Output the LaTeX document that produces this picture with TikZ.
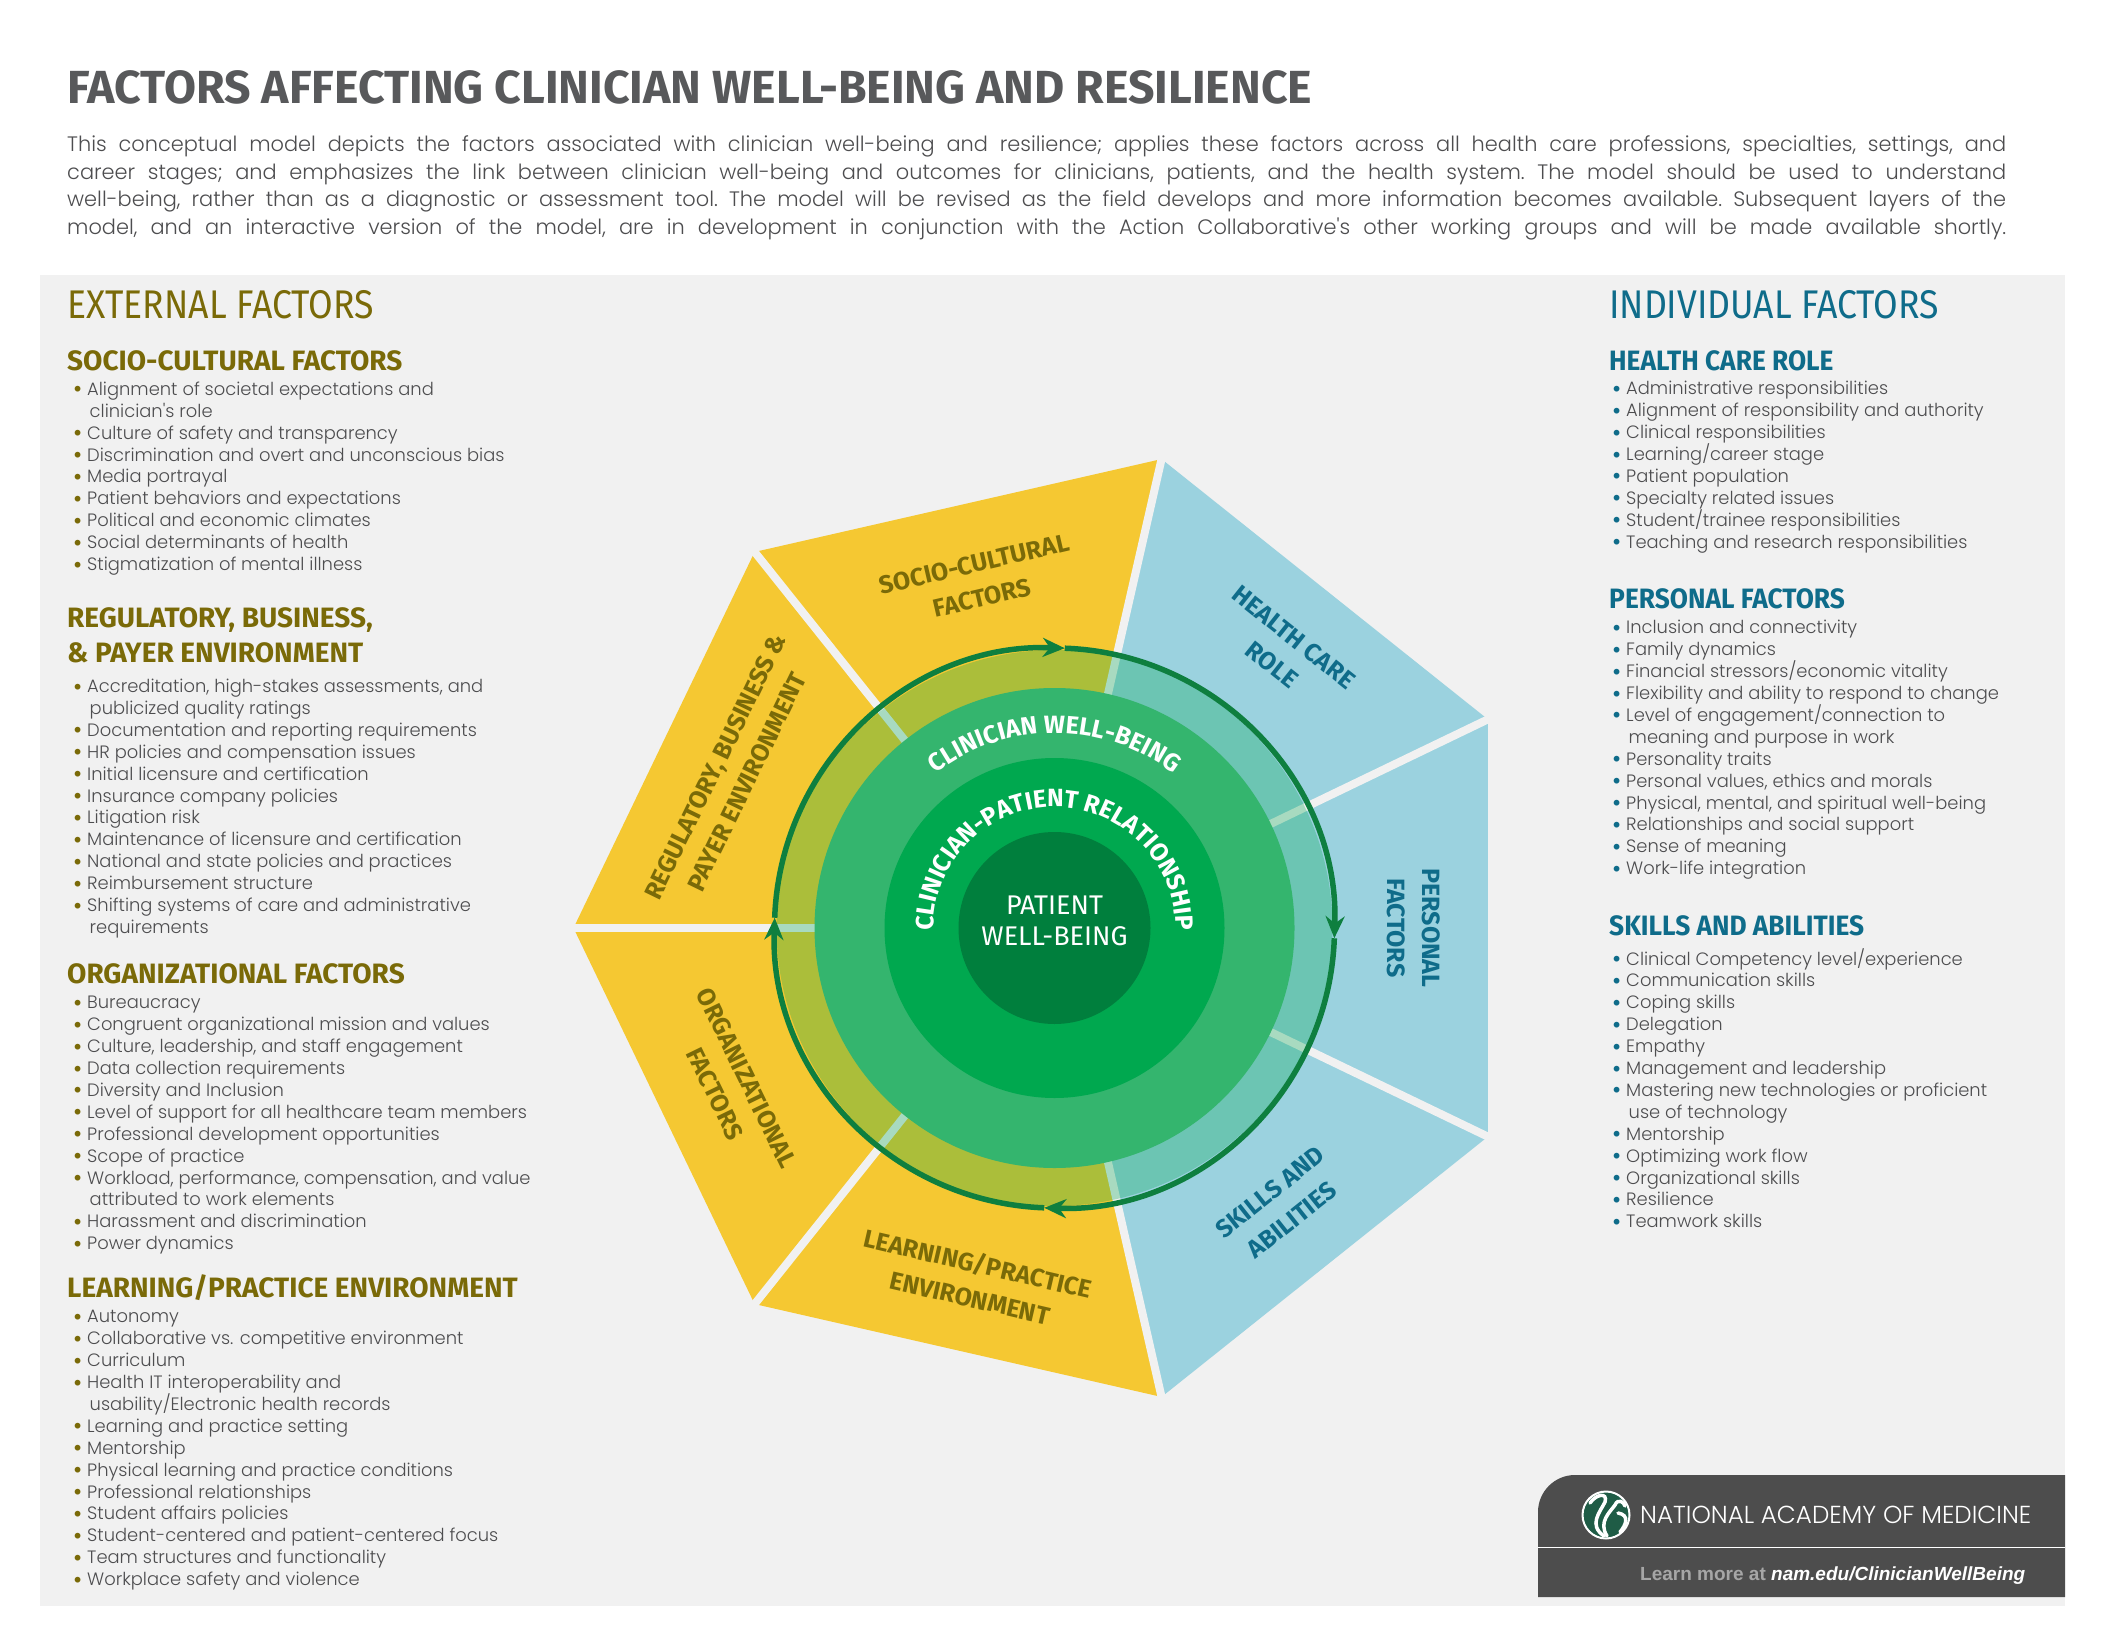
\documentclass[tikz,border=0pt]{standalone}
\usepackage{fontspec}
\usepackage{tikz}
\usetikzlibrary{arrows.meta,decorations.text}
\setmainfont{Liberation Sans}
\newfontfamily\bodyfont{Poppins Light}
\newfontfamily\headfont{Fira Sans}
\newfontfamily\indheadfont[FakeStretch=0.94]{Fira Sans}
\newfontfamily\thinheadfont[FakeStretch=0.89]{Fira Sans}
\definecolor{panelgray}{HTML}{F1F1F1}
\definecolor{titlegray}{HTML}{58595B}
\definecolor{textgray}{HTML}{4D4D4F}
\definecolor{extcol}{HTML}{7A6A08}
\definecolor{indcol}{HTML}{0F6C8A}
\definecolor{sunyellow}{HTML}{F5C832}
\definecolor{skyblue}{HTML}{9BD2DF}
\definecolor{ringgreen}{HTML}{00A84F}
\definecolor{outergreen}{HTML}{34B56E}
\definecolor{coregreen}{HTML}{007F3D}
\definecolor{arrowgreen}{HTML}{0E7F3F}
\definecolor{logogray}{HTML}{4D4D4D}
\definecolor{logogreen}{HTML}{1F5C46}
\newcommand{\itm}[1]{\strut\makebox[20pt][r]{\textcolor{bulcol}{\smash{\raisebox{-2.5pt}{\fontsize{25}{25}\selectfont•}}}\hspace{5pt}}\smash{#1}}
\newcommand{\itmcont}[1]{\strut\hspace{22.5pt}\smash{#1}}
\newcommand{\fullline}[1]{\frenchspacing\makebox[1939pt][s]{#1}}
\tikzset{
  sechead/.style={anchor=base west,inner sep=0pt,font=\headfont\bfseries\fontsize{28}{35}\selectfont,align=left},
  exthead/.style={sechead,text=extcol},
  indhead/.style={sechead,text=indcol,font=\indheadfont\bfseries\fontsize{28}{35}\selectfont},
  bighead/.style={anchor=base west,inner sep=0pt,font=\thinheadfont\fontsize{40}{42}\selectfont},
  introline/.style={anchor=base west,inner sep=0pt,text=textgray,font=\bodyfont\fontsize{20.9}{27.4}\selectfont},
  extlist/.style={anchor=north west,inner sep=0pt,align=left,text=textgray,
    font=\bodyfont\fontsize{17.9}{21.9}\selectfont\colorlet{bulcol}{extcol}},
  indlist/.style={extlist,font=\bodyfont\fontsize{17.9}{21.9}\selectfont\colorlet{bulcol}{indcol}},
  wheellabel/.style={inner sep=0pt,align=center,font=\headfont\bfseries\fontsize{25}{35}\selectfont},
  gapline/.style={panelgray,line width=8pt},
  ringline/.style={arrowgreen,line width=5.5pt,-{Stealth[length=22pt,width=19pt]}},
  logostroke/.style={white,line width=3.5pt,line cap=round},
}
\begin{document}
\begin{tikzpicture}[x=1pt,y=-1pt]
  \useasboundingbox (0,0) rectangle (2104,1637);
  \fill[white] (0,0) rectangle (2104,1637);
  % heading
  \node[anchor=base west,inner sep=0pt,text=titlegray,font=\headfont\bfseries\fontsize{46.4}{48}\selectfont]
    (title) at (67,103.5) {FACTORS AFFECTING CLINICIAN WELL-BEING AND RESILIENCE};
  \node[introline] (introa) at (67,152)
    {\fullline{This conceptual model depicts the factors associated with clinician well-being and resilience; applies these factors across all health care professions, specialties, settings, and}};
  \node[introline] (introb) at (67,179.4)
    {\fullline{career stages; and emphasizes the link between clinician well-being and outcomes for clinicians, patients, and the health system. The model should be used to understand}};
  \node[introline] (introc) at (67,206.8)
    {\fullline{well-being, rather than as a diagnostic or assessment tool. The model will be revised as the field develops and more information becomes available. Subsequent layers of the}};
  \node[introline] (introd) at (67,234.2)
    {\fullline{model, and an interactive version of the model, are in development in conjunction with the Action Collaborative's other working groups and will be made available shortly.}};
  % panel
  \fill[panelgray] (40,275) rectangle (2065,1606);

  % left column
  \node[bighead,text=extcol] (exthd) at (67,319) {EXTERNAL FACTORS};
  \node[exthead] (sociohd) at (67,370) {SOCIO-CULTURAL FACTORS};
  \node[extlist] (sociolist) at (67,379.8) {\itm{Alignment of societal expectations and}\\
    \itmcont{clinician's role}\\
    \itm{Culture of safety and transparency}\\
    \itm{Discrimination and overt and unconscious bias}\\
    \itm{Media portrayal}\\
    \itm{Patient behaviors and expectations}\\
    \itm{Political and economic climates}\\
    \itm{Social determinants of health}\\
    \itm{Stigmatization of mental illness}};
  \node[exthead] (reghd) at (67,662) {REGULATORY, BUSINESS,\\\& PAYER ENVIRONMENT};
  \node[extlist] (reglist) at (67,677) {\itm{Accreditation, high-stakes assessments, and}\\
    \itmcont{publicized quality ratings}\\
    \itm{Documentation and reporting requirements}\\
    \itm{HR policies and compensation issues}\\
    \itm{Initial licensure and certification}\\
    \itm{Insurance company policies}\\
    \itm{Litigation risk}\\
    \itm{Maintenance of licensure and certification}\\
    \itm{National and state policies and practices}\\
    \itm{Reimbursement structure}\\
    \itm{Shifting systems of care and administrative}\\
    \itmcont{requirements}};
  \node[exthead] (orghd) at (67,983) {ORGANIZATIONAL FACTORS};
  \node[extlist] (orglist) at (67,993.3) {\itm{Bureaucracy}\\
    \itm{Congruent organizational mission and values}\\
    \itm{Culture, leadership, and staff engagement}\\
    \itm{Data collection requirements}\\
    \itm{Diversity and Inclusion}\\
    \itm{Level of support for all healthcare team members}\\
    \itm{Professional development opportunities}\\
    \itm{Scope of practice}\\
    \itm{Workload, performance, compensation, and value}\\
    \itmcont{attributed to work elements}\\
    \itm{Harassment and discrimination}\\
    \itm{Power dynamics}};
  \node[exthead] (learnhd) at (67,1297) {LEARNING/PRACTICE ENVIRONMENT};
  \node[extlist] (learnlist) at (67,1307.3) {\itm{Autonomy}\\
    \itm{Collaborative vs. competitive environment}\\
    \itm{Curriculum}\\
    \itm{Health IT interoperability and}\\
    \itmcont{usability/Electronic health records}\\
    \itm{Learning and practice setting}\\
    \itm{Mentorship}\\
    \itm{Physical learning and practice conditions}\\
    \itm{Professional relationships}\\
    \itm{Student affairs policies}\\
    \itm{Student-centered and patient-centered focus}\\
    \itm{Team structures and functionality}\\
    \itm{Workplace safety and violence}};

  % right column
  \node[bighead,text=indcol] (indhd) at (1609,319) {INDIVIDUAL FACTORS};
  \node[indhead] (rolehd) at (1609,370) {HEALTH CARE ROLE};
  \node[indlist] (rolelist) at (1606,379.3) {\itm{Administrative responsibilities}\\
    \itm{Alignment of responsibility and authority}\\
    \itm{Clinical responsibilities}\\
    \itm{Learning/career stage}\\
    \itm{Patient population}\\
    \itm{Specialty related issues}\\
    \itm{Student/trainee responsibilities}\\
    \itm{Teaching and research responsibilities}};
  \node[indhead] (personhd) at (1609,608) {PERSONAL FACTORS};
  \node[indlist] (personlist) at (1606,618.3) {\itm{Inclusion and connectivity}\\
    \itm{Family dynamics}\\
    \itm{Financial stressors/economic vitality}\\
    \itm{Flexibility and ability to respond to change}\\
    \itm{Level of engagement/connection to}\\
    \itmcont{meaning and purpose in work}\\
    \itm{Personality traits}\\
    \itm{Personal values, ethics and morals}\\
    \itm{Physical, mental, and spiritual well-being}\\
    \itm{Relationships and social support}\\
    \itm{Sense of meaning}\\
    \itm{Work-life integration}};
  \node[indhead] (skillhd) at (1609,935) {SKILLS AND ABILITIES};
  \node[indlist] (skilllist) at (1606,949.5) {\itm{Clinical Competency level/experience}\\
    \itm{Communication skills}\\
    \itm{Coping skills}\\
    \itm{Delegation}\\
    \itm{Empathy}\\
    \itm{Management and leadership}\\
    \itm{Mastering new technologies or proficient}\\
    \itmcont{use of technology}\\
    \itm{Mentorship}\\
    \itm{Optimizing work flow}\\
    \itm{Organizational skills}\\
    \itm{Resilience}\\
    \itm{Teamwork skills}};

  % wheel
  \begin{scope}[shift={(1054.5,928)},y=1pt]
    \foreach \a/\col in {180/sunyellow,128.57/sunyellow,77.14/skyblue,25.71/skyblue,-25.71/skyblue,-77.14/sunyellow,-128.57/sunyellow}
      \fill[\col] (\a:481) -- ({\a-51.43}:481) -- (0,0) -- cycle;
    \foreach \a in {180,128.57,77.14,25.71,-25.71,-77.14,-128.57}
      \draw[gapline] (0,0) -- (\a:494);
    \fill[ringgreen,opacity=0.3] (0,0) circle (278);
    \fill[outergreen] (0,0) circle (240);
    \fill[ringgreen] (0,0) circle (170);
    \fill[coregreen] (0,0) circle (96);
    % loop of arrows
    \foreach \a in {177.9,87.9,-2.1,-92.1}
      \draw[ringline] (\a:280) arc[start angle=\a,delta angle=-90,radius=280];
    \path[decorate,decoration={text along path,text align=center,
      text={|\headfont\bfseries\fontsize{25}{30}\selectfont\color{white}|CLINICIAN WELL-BEING}}]
      (131:195) arc[start angle=131,end angle=49,radius=195];
    \path[decorate,decoration={text along path,text align=center,
      text={|\headfont\bfseries\fontsize{25}{30}\selectfont\color{white}|CLINICIAN-PATIENT RELATIONSHIP}}]
      (184:121) arc[start angle=184,end angle=-4,radius=121];
  \end{scope}
  \node[wheellabel,text=white,font=\headfont\fontsize{27}{31}\selectfont] (patient) at (1054.5,921) {PATIENT\\WELL-BEING};
  \node[wheellabel,text=extcol,rotate=13] (sociolab) at (978,581) {SOCIO-CULTURAL\\FACTORS};
  \node[wheellabel,text=extcol,rotate=64] (reglab) at (731,774) {REGULATORY, BUSINESS \&\\PAYER ENVIRONMENT};
  \node[wheellabel,text=extcol,rotate=-64] (orglab) at (731,1086) {ORGANIZATIONAL\\FACTORS};
  \node[wheellabel,text=extcol,rotate=-13] (learnlab) at (974,1280) {LEARNING/PRACTICE\\ENVIRONMENT};
  \node[wheellabel,text=indcol,rotate=-38.5] (rolelab) at (1283,651) {HEALTH CARE\\ROLE};
  \node[wheellabel,text=indcol,rotate=-90] (personlab) at (1414,928) {PERSONAL\\FACTORS};
  \node[wheellabel,text=indcol,rotate=38.5] (skilllab) at (1281,1206) {SKILLS AND\\ABILITIES};

  % logo block
  \fill[logogray] (2065,1475) -- (1575,1475) arc[start angle=-90,end angle=-180,radius=37] -- (1538,1597) -- (2065,1597) -- cycle;
  \draw[white,line width=0.8pt] (1538,1547) -- (2065,1547);
  \node[circle,fill=logogreen,draw=white,line width=2pt,minimum size=47pt,inner sep=0pt] (logo) at (1606,1515) {};
  \draw[logostroke] (1590,1503) .. controls (1596,1494) and (1608,1492) .. (1605,1502) .. controls (1600,1512) and (1588,1525) .. (1604,1536);
  \draw[logostroke] (1607,1536) .. controls (1598,1522) and (1610,1512) .. (1615,1505) .. controls (1618,1498) and (1624,1502) .. (1625,1506);
  \draw[logostroke] (1618,1513) .. controls (1630,1515) and (1626,1525) .. (1620,1532);
  \node[anchor=west,inner sep=0pt,text=white,font=\fontsize{24.6}{27}\selectfont\bodyfont] (namlab) at (1640,1515) {NATIONAL ACADEMY OF MEDICINE};
  \node[anchor=west,inner sep=0pt,text=gray!70,font=\fontsize{19}{20}\selectfont\bfseries] (learnmore) at (1640,1576)
    {Learn more at \textcolor{white}{\itshape nam.edu/ClinicianWellBeing}};
\end{tikzpicture}
\end{document}
